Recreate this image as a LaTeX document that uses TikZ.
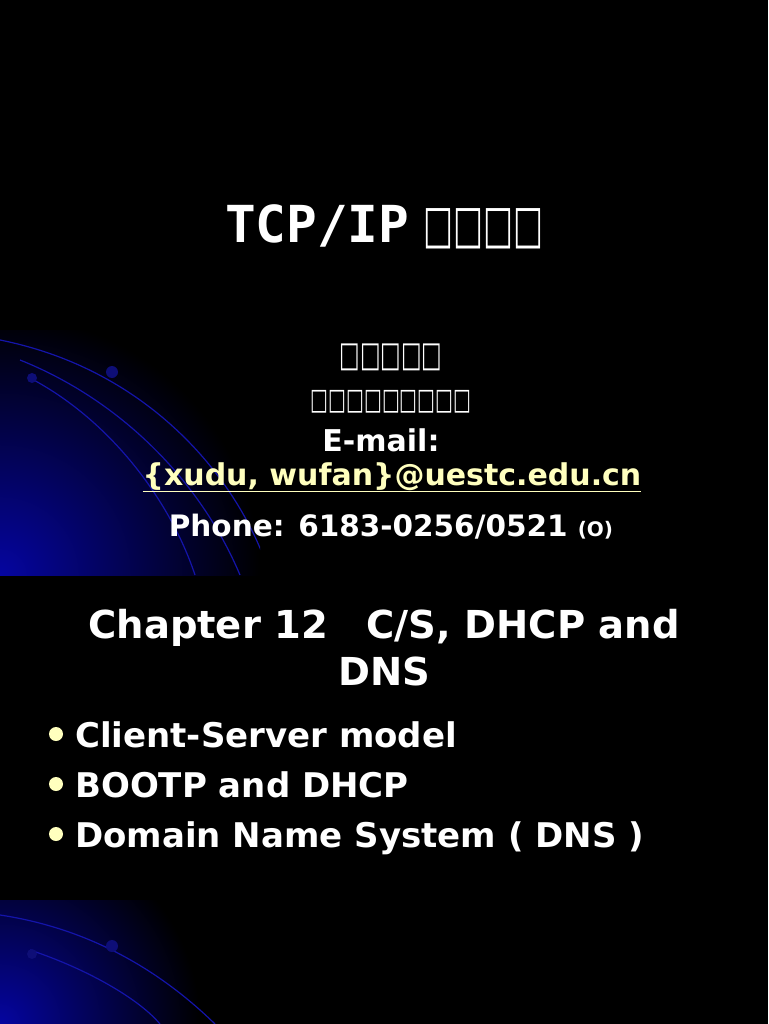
\documentclass[tikz,border=0pt]{standalone}
\usepackage{fontspec}
\setmainfont{DejaVu Sans}
\newfontfamily\monob{DejaVu Sans Mono}
\usetikzlibrary{shadings}
\definecolor{deepblue}{RGB}{5,5,160}
\definecolor{arcblue}{RGB}{20,20,170}
\definecolor{mailyel}{RGB}{255,255,190}
\tikzset{txt/.style={text=white,font=\bfseries,inner sep=0pt,anchor=base},
 arc/.style={draw=arcblue,line width=1.2pt},
 dot/.style={fill=arcblue!70!black}}
\newcommand{\bx}[1]{\scalebox{#1}[1.1]{\char"25A1}}
\begin{document}
\begin{tikzpicture}[x=1pt,y=-1pt]
\fill[black] (0,0) rectangle (768,1024);
\useasboundingbox (0,0) rectangle (768,1024);
% top-left blue patch
\begin{scope}
\clip (0,330) rectangle (260,575);
\shade[inner color=deepblue,outer color=black] (0,575) circle (260);
\draw[arc] (0,340) .. controls (150,370) and (240,480) .. (270,575);
\draw[arc] (20,360) .. controls (120,400) and (200,480) .. (240,575);
\draw[arc] (30,378) .. controls (110,420) and (170,500) .. (195,575);
\fill[dot] (112,372) circle (6);
\fill[dot] (32,378) circle (5);
\end{scope}
% bottom-left patch
\begin{scope}
\clip (0,900) rectangle (260,1024);
\shade[inner color=deepblue,outer color=black] (0,1024) circle (200);
\draw[arc] (0,915) .. controls (100,930) and (170,980) .. (215,1024);
\draw[arc] (30,950) .. controls (90,970) and (140,1000) .. (160,1024);
\fill[dot] (112,946) circle (6);
\fill[dot] (32,954) circle (5);
\end{scope}
\node[txt,font=\monob\bfseries\fontsize{51}{53}\selectfont] (title) at (384,243) {TCP/IP\hspace{14pt}{\fontspec{DejaVu Sans}\fontseries{m}\selectfont\fontsize{48}{50}\selectfont\bx{.66}\bx{.66}\bx{.66}\bx{.66}}};
\node[txt,font=\fontsize{32}{34}\selectfont\mdseries] (name) at (391,366) {\bx{.68}\bx{.68}\bx{.68}\bx{.68}\bx{.68}};
\node[txt,font=\fontsize{27}{30}\selectfont\mdseries] (aff) at (391,409) {\bx{.7}\bx{.7}\bx{.7}\bx{.7}\bx{.7}\bx{.7}\bx{.7}\bx{.7}\bx{.7}};
\node[txt,font=\bfseries\fontsize{30}{32}\selectfont] (email) at (381,451) {E-mail:};
\node[txt,text=mailyel,font=\bfseries\fontsize{30}{32}\selectfont] (addr) at (392,485) {\underline{\{xudu, wufan\}@uestc.edu.cn}};
\node[txt,font=\bfseries\fontsize{29.5}{32}\selectfont] (phone) at (391,536) {Phone: 6183-0256/0521 {\fontsize{20}{22}\selectfont (O)}};
\node[txt,font=\bfseries\fontsize{38.5}{40}\selectfont] (ch1) at (384,638) {Chapter 12\quad C/S, DHCP and};
\node[txt,font=\bfseries\fontsize{38.5}{40}\selectfont] (ch2) at (384,685) {DNS};
\foreach \y/\t/\n in {747/Client-Server model/b1, 797/BOOTP and DHCP/b2, 847/Domain Name System ( DNS )/b3}{
 \node[txt,anchor=base west,font=\bfseries\fontsize{34}{36}\selectfont] (\n) at (75,\y) {\t};
 \fill[mailyel] (56,\y-13) circle (7);
}
\end{tikzpicture}
\end{document}
